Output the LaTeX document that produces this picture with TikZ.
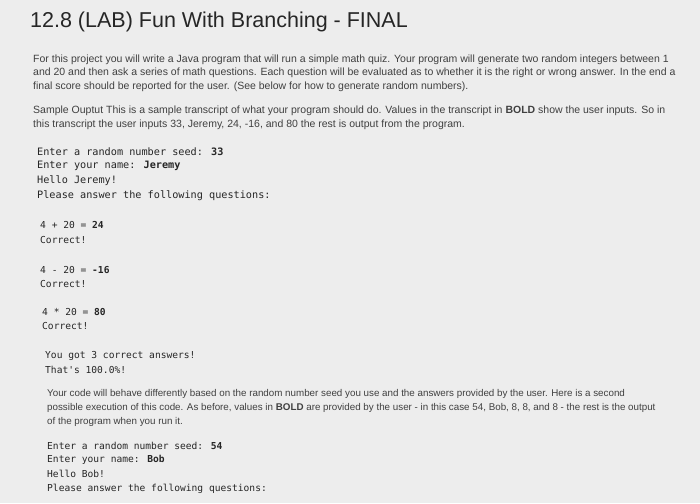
\documentclass[tikz,border=0pt]{standalone}
\usepackage{fontspec}
\setmainfont{Liberation Sans}
\newfontfamily\codefont{DejaVu Sans Mono}
\begin{document}
\begin{tikzpicture}[x=1pt,y=-1pt,
  para/.style={anchor=west,inner sep=0,text=black!75,font=\fontsize{10.5}{11}\selectfont},
  parb/.style={anchor=west,inner sep=0,text=black!75,font=\fontsize{9.8}{11}\selectfont},
  code/.style={anchor=west,inner sep=0,text=black!85,font=\codefont\fontsize{10.2}{11}\selectfont},
  codeb/.style={anchor=west,inner sep=0,text=black!85,font=\codefont\fontsize{9.6}{11}\selectfont}]
\fill[white!93!black] (0,0) rectangle (700,503);
\useasboundingbox (0,0) rectangle (700,503);
\node[anchor=west,inner sep=0,text=black!85,font=\fontsize{21.5}{23}\selectfont] (title) at (30,22) {12.8 (LAB) Fun With Branching - FINAL};
\node[para] (p1) at (33,60) {For this project you will write a Java program that will run a simple math quiz. Your program will generate two random integers between 1};
\node[para] (p2) at (33,73) {and 20 and then ask a series of math questions. Each question will be evaluated as to whether it is the right or wrong answer. In the end a};
\node[para] (p3) at (33,87) {final score should be reported for the user. (See below for how to generate random numbers).};
\node[para] (s1) at (33,111) {Sample Ouptut This is a sample transcript of what your program should do. Values in the transcript in \textbf{BOLD} show the user inputs. So in};
\node[para] (s2) at (33,125) {this transcript the user inputs 33, Jeremy, 24, -16, and 80 the rest is output from the program.};
\node[code] (c1) at (37,152) {Enter a random number seed: \textbf{33}};
\node[code] (c2) at (37,166) {Enter your name: \textbf{Jeremy}};
\node[code] (c3) at (37,181) {Hello Jeremy!};
\node[code] (c4) at (37,196) {Please answer the following questions:};
\node[codeb] (q1) at (40,225) {4 + 20 = \textbf{24}};
\node[codeb] (r1) at (40,240) {Correct!};
\node[codeb] (q2) at (40,270) {4 - 20 = \textbf{-16}};
\node[codeb] (r2) at (40,284) {Correct!};
\node[codeb] (q3) at (42,312) {4 * 20 = \textbf{80}};
\node[codeb] (r3) at (42,326) {Correct!};
\node[codeb] (y1) at (45,356) {You got 3 correct answers!};
\node[codeb] (y2) at (45,370) {That's 100.0\%!};
\node[parb] (t1) at (47,394) {Your code will behave differently based on the random number seed you use and the answers provided by the user. Here is a second};
\node[parb] (t2) at (47,408) {possible execution of this code. As before, values in \textbf{BOLD} are provided by the user - in this case 54, Bob, 8, 8, and 8 - the rest is the output};
\node[parb] (t3) at (47,422) {of the program when you run it.};
\node[codeb] (d1) at (47,446) {Enter a random number seed: \textbf{54}};
\node[codeb] (d2) at (47,460) {Enter your name: \textbf{Bob}};
\node[codeb] (d3) at (47,474) {Hello Bob!};
\node[codeb] (d4) at (47,489) {Please answer the following questions:};
\end{tikzpicture}
\end{document}
